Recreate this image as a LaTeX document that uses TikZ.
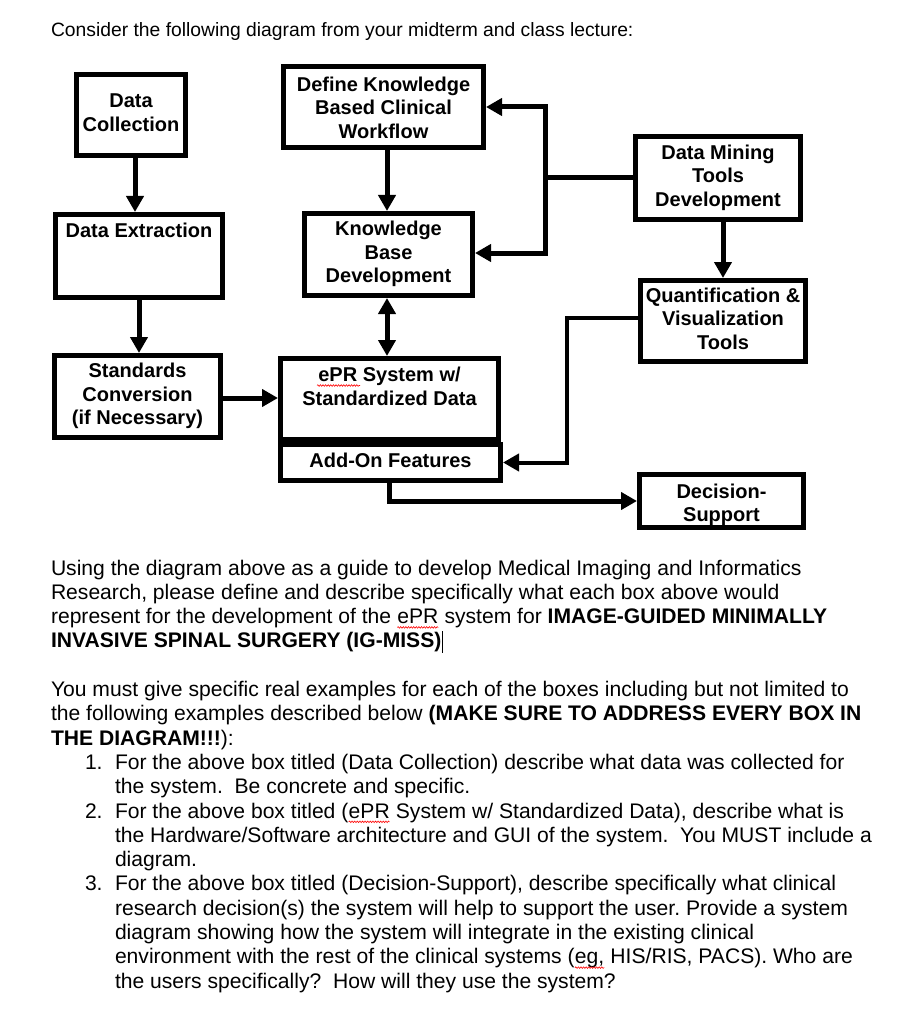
\documentclass[tikz,border=0pt]{standalone}
\usepackage{fontspec}
\setmainfont{Liberation Sans}
\usetikzlibrary{arrows.meta,decorations.pathmorphing}

\newcommand{\sqg}[1]{\tikz[baseline=0pt,x=1pt,y=1pt]{\node[anchor=base west,inner sep=0pt,outer sep=0pt,draw=none,fill=none](w){#1};\draw[red,line width=0.6pt,decorate,decoration={snake,amplitude=0.8pt,segment length=2.6pt}]([yshift=-3.8pt]w.base west)--([yshift=-3.8pt]w.base east);}}
\newcommand{\lowered}[2]{\raisebox{-#1}[\height][\depth]{\begin{tabular}{@{}c@{}}#2\end{tabular}}}

\tikzset{
  box/.style={draw=black, line width=5pt, fill=white, inner sep=0pt, align=center,
    font=\fontsize{20}{23.5}\selectfont\bfseries},
  arr/.style={line width=5pt, -{Triangle[length=16pt,width=17pt]}},
  dblarr/.style={line width=5pt, {Triangle[length=16pt,width=17pt]}-{Triangle[length=16pt,width=17pt]}},
  plain/.style={line width=5pt},
  txt/.style={anchor=base west, inner sep=0pt, outer sep=0pt, font=\fontsize{21.1}{24}\selectfont\frenchspacing},
  toptxt/.style={anchor=base west, inner sep=0pt, outer sep=0pt, font=\fontsize{19.3}{24}\selectfont\frenchspacing},
  squig/.style={red, line width=0.6pt, decorate, decoration={snake, amplitude=0.8pt, segment length=2.6pt}}
}

\begin{document}
\begin{tikzpicture}[x=1pt,y=-1pt]
\fill[white] (0,0) rectangle (915,1024);
\useasboundingbox (0,0) rectangle (915,1024);

% boxes
\node[box, minimum width=109pt, minimum height=81pt] (dc) at (131,115) {\strut Data\\\strut Collection};
\node[box, minimum width=200pt, minimum height=81pt] (def) at (383.5,107) {\lowered{3pt}{Define Knowledge\\Based Clinical\\Workflow}};
\node[box, minimum width=167pt, minimum height=83pt] (de) at (139,256) {\strut Data Extraction\\\strut\\\strut};
\node[box, minimum width=168pt, minimum height=82pt] (kb) at (388.5,254.5) {\strut Knowledge\\\strut Base\\\strut Development};
\node[box, minimum width=165pt, minimum height=83pt] (dm) at (718,178) {\strut Data Mining\\\strut Tools\\\strut Development};
\node[box, minimum width=165pt, minimum height=81pt] (quant) at (723,321) {\strut Quantification \&\\\strut Visualization\\\strut Tools};
\node[box, minimum width=166pt, minimum height=82pt] (std) at (137.5,396.5) {\strut Standards\\\strut Conversion\\\strut (if Necessary)};
\node[box, minimum width=218pt, minimum height=81pt] (epr) at (389.5,399) {\lowered{1.5pt}{ePR System w/\\Standardized Data\\\mbox{}}};
\node[box, minimum width=220pt, minimum height=36pt] (addon) at (390.5,462.5) {\strut Add-On Features};
\node[box, minimum width=164pt, minimum height=53pt] (dec) at (721.5,501) {\lowered{4.5pt}{Decision-\\Support}};

\draw[squig] (317,385.5) -- (360,385.5);

% connectors
\draw[arr] ([xshift=4pt]dc.south) -- ([xshift=-4pt]de.north);
\draw[arr] (de.south) -- (de.south |- std.north);
\draw[arr] ([xshift=3.5pt]def.south) -- ([xshift=-1.5pt]kb.north);
\draw[dblarr] ([xshift=-1.5pt]kb.south) -- ([xshift=-2.5pt]epr.north);
\draw[arr] ([yshift=-1.5pt]std.east) -- ([yshift=1pt]epr.west);
\coordinate (j) at (545,178);
\draw[plain] (dm.west) -- (j);
\draw[arr] (j) |- (def.east);
\draw[arr] (j) |- ([yshift=1.5pt]kb.east);
\draw[arr] ([xshift=5pt]dm.south) -- (quant.north);
\coordinate (q) at (567,318);
\draw[arr, line width=4pt] ([yshift=3pt]quant.west) -- (q) |- (addon.east);
\draw[arr] ([xshift=-1.5pt]addon.south) |- (dec.west);

% text
\node[toptxt] (t0) at (51,36.7) {Consider the following diagram from your midterm and class lecture:};
\node[txt] (t1) at (51,575) {Using the diagram above as a guide to develop Medical Imaging and Informatics};
\node[txt] (t2) at (51,599.3) {Research, please define and describe specifically what each box above would};
\node[txt] (t3) at (51,623.6) {represent for the development of the \sqg{ePR} system for \textbf{IMAGE-GUIDED MINIMALLY}};
\node[txt] (t4) at (51,647.9) {\textbf{INVASIVE SPINAL SURGERY (IG-MISS)}\kern0.5pt\rule[-5pt]{0.9pt}{22pt}};
\node[txt] (t6) at (51,696.5) {You must give specific real examples for each of the boxes including but not limited to};
\node[txt] (t7) at (51,720.8) {the following examples described below \textbf{(MAKE SURE TO ADDRESS EVERY BOX IN}};
\node[txt] (t8) at (51,745.1) {\textbf{THE DIAGRAM!!!}):};
\node[txt] (n1) at (85,769.4) {1.};
\node[txt] (t9) at (115,769.4) {For the above box titled (Data Collection) describe what data was collected for};
\node[txt] (t10) at (115,793.7) {the system.\ \ Be concrete and specific.};
\node[txt] (n2) at (85,818) {2.};
\node[txt] (t11) at (115,818) {For the above box titled (\sqg{ePR} System w/ Standardized Data), describe what is};
\node[txt] (t12) at (115,842.3) {the Hardware/Software architecture and GUI of the system.\ \ You MUST include a};
\node[txt] (t13) at (115,866.6) {diagram.};
\node[txt] (n3) at (85,890.9) {3.};
\node[txt] (t14) at (115,890.9) {For the above box titled (Decision-Support), describe specifically what clinical};
\node[txt] (t15) at (115,915.2) {research decision(s) the system will help to support the user. Provide a system};
\node[txt] (t16) at (115,939.5) {diagram showing how the system will integrate in the existing clinical};
\node[txt] (t17) at (115,963.8) {environment with the rest of the clinical systems (\sqg{eg,} HIS/RIS, PACS). Who are};
\node[txt] (t18) at (115,988.1) {the users specifically?\ \ How will they use the system?};
\end{tikzpicture}
\end{document}
